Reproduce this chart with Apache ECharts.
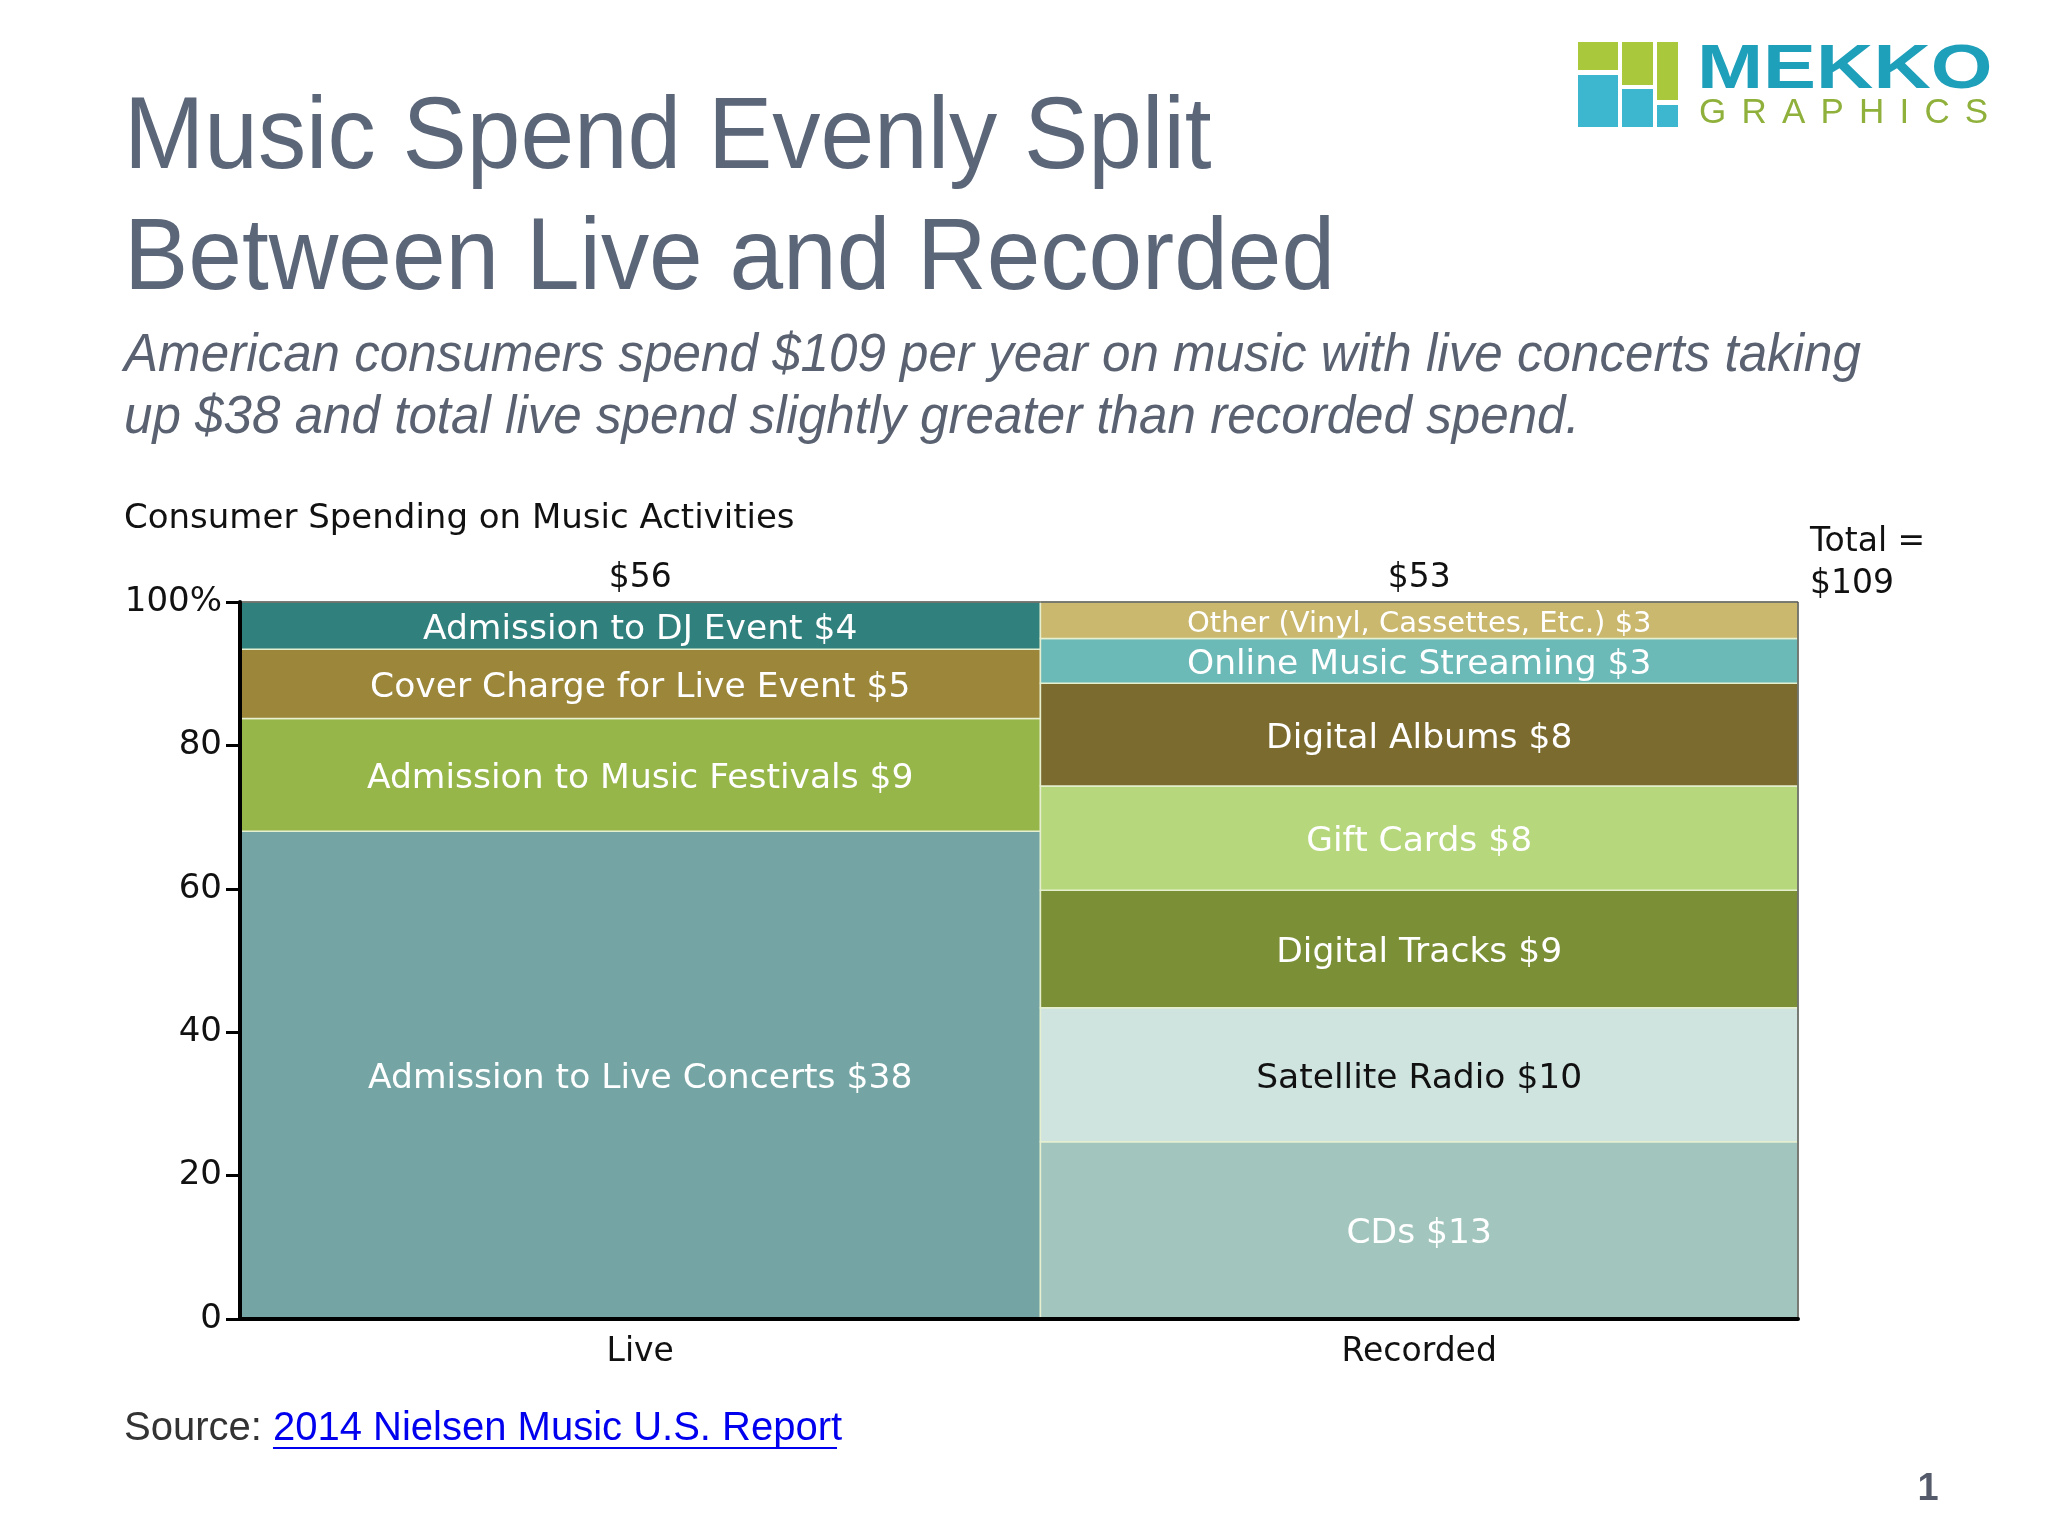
<!DOCTYPE html>
<html>
<head>
<meta charset="utf-8">
<title>Music Spend Evenly Split Between Live and Recorded</title>
<script src="https://cdn.jsdelivr.net/npm/echarts@6/dist/echarts.min.js"></script>
<style>
    html, body { margin: 0; padding: 0; background: #fff; }
    #main { width: 2048px; height: 1536px; }
    .logo { position: absolute; left: 0; top: 0; }
    .logo div { position: absolute; }
    .logo .g { background: #a9c83c; }
    .logo .b { background: #3cb7cf; }
    .logo .mekko { left: 1697px; top: 35px; font: bold 63px "Liberation Sans", Arial, sans-serif; line-height: 1; color: #1e9fba; transform: scaleX(1.26); transform-origin: left top; white-space: nowrap; }
    .logo .graphics { left: 1699px; top: 93px; font: 35px "Liberation Sans", Arial, sans-serif; line-height: 1; color: #8fb13c; letter-spacing: 15.2px; white-space: nowrap; }
</style>
</head>
<body>
<div id="main"></div>
<div class="logo">
    <div class="g" style="left:1578px;top:42px;width:40px;height:28px"></div>
    <div class="b" style="left:1578px;top:75px;width:40px;height:52px"></div>
    <div class="g" style="left:1622px;top:42px;width:31px;height:43px"></div>
    <div class="b" style="left:1622px;top:89px;width:31px;height:38px"></div>
    <div class="g" style="left:1657px;top:42px;width:21px;height:58px"></div>
    <div class="b" style="left:1657px;top:105px;width:21px;height:22px"></div>
    <div class="mekko">MEKKO</div>
    <div class="graphics">GRAPHICS</div>
</div>
<script>
// chart data
var columns = ['Live', 'Recorded'];

var liveSegments = ['Admission to Live Concerts', 'Admission to Music Festivals', 'Cover Charge for Live Event', 'Admission to DJ Event'];
var liveValues = [38.1, 8.8, 5.4, 3.7];

var recordedSegments = ['CDs', 'Satellite Radio', 'Digital Tracks', 'Gift Cards', 'Digital Albums', 'Online Music Streaming', 'Other (Vinyl, Cassettes, Etc.)'];
var recordedValues = [13.1, 9.9, 8.7, 7.7, 7.6, 3.3, 2.7];

var yTicks = [0, 20, 40, 60, 80, 100];

// styles
var liveColors = ['#74a5a4', '#97b64a', '#9b863a', '#30817e'];
var recordedColors = ['#a2c6bd', '#cfe3df', '#7b8f37', '#b6d77c', '#7c6b2e', '#6bbab8', '#c9b86e'];
var darkLabels = ['Satellite Radio'];
var FONT = '"DejaVu Sans", Verdana, sans-serif';
var ARIAL = '"Liberation Sans", Arial, sans-serif';

function sum(arr) {
    var s = 0;
    for (var i = 0; i < arr.length; i++) { s += arr[i]; }
    return s;
}

/*--------------------------------
     build mekko rectangles
 --------------------------------*/
var segmentData = [];
var columnData = [];
var offset = 0;

function addColumn(colName, names, values, colors) {
    var total = sum(values);
    var y = 0;
    for (var i = 0; i < values.length; i++) {
        var h = values[i] / total * 100;
        segmentData.push({
            name: names[i],
            value: [offset, offset + total, y, y + h, values[i]],
            color: colors[i]
        });
        y += h;
    }
    columnData.push({ name: colName, value: [offset, offset + total, total] });
    offset += total;
}

addColumn(columns[0], liveSegments, liveValues, liveColors);
addColumn(columns[1], recordedSegments, recordedValues, recordedColors);

var grandTotal = offset;

var myChart = echarts.init(document.getElementById('main'));

var option = {
    animation: false,
    grid: { left: 240, right: 250, top: 602, bottom: 217 },
    xAxis: {
        type: 'value',
        min: 0,
        max: grandTotal,
        z: 5,
        axisLine: { show: true, lineStyle: { color: '#000', width: 4 } },
        axisTick: { show: false },
        axisLabel: { show: false },
        splitLine: { show: false }
    },
    yAxis: {
        type: 'value',
        min: yTicks[0],
        max: yTicks[yTicks.length - 1],
        interval: yTicks[1] - yTicks[0],
        z: 5,
        axisLine: { show: true, lineStyle: { color: '#000', width: 4 } },
        axisTick: { show: true, length: 14, lineStyle: { color: '#000', width: 3 } },
        axisLabel: {
            margin: 18,
            fontFamily: FONT,
            fontSize: 34,
            color: '#111',
            padding: [6, 0, 0, 0],
            formatter: function (v) { return v === 100 ? '100%' : String(v); }
        },
        splitLine: { show: false }
    },
    series: [
        {
            type: 'custom',
            name: 'segments',
            z: 2,
            data: segmentData.map(function (d) { return d.value; }),
            encode: { x: [0, 1], y: [2, 3] },
            renderItem: function (params, api) {
                var item = segmentData[params.dataIndex];
                var tl = api.coord([api.value(0), api.value(3)]);
                var br = api.coord([api.value(1), api.value(2)]);
                var h = br[1] - tl[1];
                return {
                    type: 'rect',
                    shape: { x: tl[0], y: tl[1], width: br[0] - tl[0], height: h },
                    style: { fill: item.color, stroke: '#e6efd0', lineWidth: 1.5 },
                    textContent: {
                        style: {
                            text: item.name + ' $' + Math.round(api.value(4)),
                            fill: darkLabels.indexOf(item.name) >= 0 ? '#111' : '#fff',
                            fontFamily: FONT,
                            fontSize: h < 40 ? 29 : 34.5
                        }
                    },
                    textConfig: { position: 'inside', offset: [0, 4] }
                };
            }
        },
        {
            type: 'custom',
            name: 'columns',
            z: 3,
            data: columnData.map(function (d) { return d.value; }),
            encode: { x: [0, 1] },
            renderItem: function (params, api) {
                var col = columnData[params.dataIndex];
                var x0 = api.value(0), x1 = api.value(1);
                var top = api.coord([x0, 100]);
                var topR = api.coord([x1, 100]);
                var bot = api.coord([x1, 0]);
                var mid = (top[0] + topR[0]) / 2;
                var children = [
                    {
                        type: 'text',
                        style: { text: '$' + Math.round(api.value(2)), x: mid, y: top[1] - 24, align: 'center', verticalAlign: 'middle', fontFamily: FONT, fontSize: 33, fill: '#111' }
                    },
                    {
                        type: 'text',
                        style: { text: col.name, x: mid, y: bot[1] + 33, align: 'center', verticalAlign: 'middle', fontFamily: FONT, fontSize: 33, fill: '#111' }
                    },
                    {
                        type: 'line',
                        shape: { x1: top[0], y1: top[1], x2: topR[0], y2: topR[1] },
                        style: { stroke: '#555', lineWidth: 1.5 }
                    }
                ];
                if (params.dataIndex === columnData.length - 1) {
                    children.push({
                        type: 'line',
                        shape: { x1: topR[0], y1: topR[1], x2: bot[0], y2: bot[1] },
                        style: { stroke: '#555', lineWidth: 1.5 }
                    });
                }
                return { type: 'group', children: children };
            }
        }
    ],
    graphic: [
        { type: 'text', x: 124, y: 140, scaleX: 0.945, style: { text: 'Music Spend Evenly Split', fontFamily: ARIAL, fontSize: 102, fill: '#5b6679', align: 'left', verticalAlign: 'middle' } },
        { type: 'text', x: 124, y: 261, scaleX: 0.945, style: { text: 'Between Live and Recorded', fontFamily: ARIAL, fontSize: 102, fill: '#5b6679', align: 'left', verticalAlign: 'middle' } },
        { type: 'text', x: 124, y: 356, scaleX: 0.965, style: { text: 'American consumers spend $' + Math.round(grandTotal) + ' per year on music with live concerts taking', fontFamily: ARIAL, fontStyle: 'italic', fontSize: 53, fill: '#5a6272', align: 'left', verticalAlign: 'middle' } },
        { type: 'text', x: 124, y: 418, scaleX: 0.965, style: { text: 'up $' + Math.round(liveValues[0]) + ' and total live spend slightly greater than recorded spend.', fontFamily: ARIAL, fontStyle: 'italic', fontSize: 53, fill: '#5a6272', align: 'left', verticalAlign: 'middle' } },
        { type: 'text', x: 124, y: 519, style: { text: 'Consumer Spending on Music Activities', fontFamily: FONT, fontSize: 34, fill: '#111', align: 'left', verticalAlign: 'middle' } },
        { type: 'text', x: 1810, y: 542, style: { text: 'Total =', fontFamily: FONT, fontSize: 33, fill: '#111', align: 'left', verticalAlign: 'middle' } },
        { type: 'text', x: 1810, y: 584, style: { text: '$' + Math.round(grandTotal), fontFamily: FONT, fontSize: 33, fill: '#111', align: 'left', verticalAlign: 'middle' } },
        {
            type: 'text', x: 124, y: 1429,
            style: {
                text: '{a|Source: }{b|2014 Nielsen Music U.S. Report}',
                verticalAlign: 'middle',
                rich: {
                    a: { fontFamily: ARIAL, fontSize: 40, fill: '#333' },
                    b: { fontFamily: ARIAL, fontSize: 40, fill: '#0000ee' }
                }
            }
        },
        { type: 'line', shape: { x1: 273, y1: 1448, x2: 837, y2: 1448 }, style: { stroke: '#0000ee', lineWidth: 2 } },
        { type: 'text', x: 1928, y: 1490, style: { text: '1', fontFamily: ARIAL, fontSize: 38, fontWeight: 'bold', fill: '#555b6b', align: 'center', verticalAlign: 'middle' } }
    ]
};

myChart.setOption(option);
</script>
</body>
</html>
